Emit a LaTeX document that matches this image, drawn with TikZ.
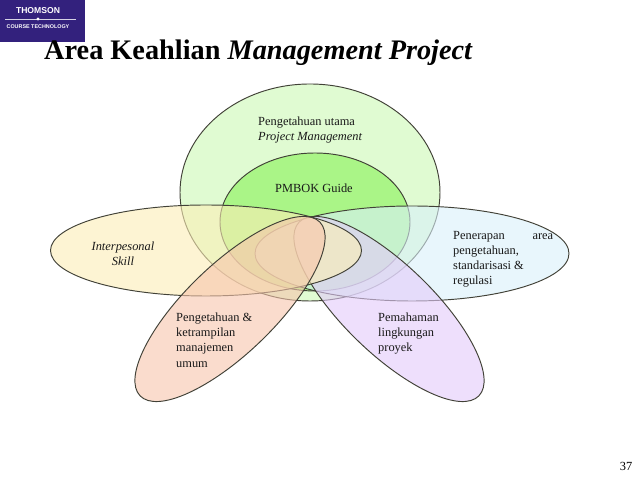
\documentclass[tikz,border=0pt]{standalone}
\usepackage{fontspec}
\setmainfont{Liberation Serif}
\setsansfont{Liberation Sans}
\definecolor{logoblue}{RGB}{51,33,125}
\definecolor{edge}{RGB}{65,65,55}
\definecolor{cbig}{RGB}{224,251,210}
\definecolor{cinner}{RGB}{170,245,135}
\definecolor{cright}{RGB}{217,240,250}
\definecolor{cleft}{RGB}{252,238,182}
\definecolor{clowl}{RGB}{247,197,172}
\definecolor{clowr}{RGB}{227,203,250}
\tikzset{
  venn/.style={draw=edge,line width=0.95pt},
  veil/.style={venn,fill opacity=0.6},
  lbl/.style={inner sep=0pt,align=left,anchor=north west,font=\fontsize{12.4pt}{15.1pt}\selectfont,text=black!90},
  lblc/.style={inner sep=0pt,align=center,font=\fontsize{12.4pt}{15.1pt}\selectfont,text=black!90}
}
\begin{document}
\begin{tikzpicture}[x=1pt,y=1pt]
\useasboundingbox (0,0) rectangle (638,478);
\fill[white] (0,0) rectangle (638,478);
% logo
\fill[logoblue] (0,436) rectangle (85,478);
\node[inner sep=0pt,text=white,font=\sffamily\bfseries\fontsize{8.6pt}{9pt}\selectfont] (logoa) at (38,467) {THOMSON};
\draw[white!80!logoblue,line width=0.6pt] (5,459) -- (76,459);
\fill[white] (38,459) circle (1.6);
\node[inner sep=0pt,text=white,font=\sffamily\bfseries\fontsize{5.4pt}{6pt}\selectfont] (logob) at (38,451.5) {COURSE TECHNOLOGY};
% title
\node[inner sep=0pt,anchor=base west,text=black,font=\fontsize{28.3pt}{32pt}\selectfont] (title) at (44,418) {\textbf{Area Keahlian \textit{Management Project}}};
% shapes
\path[venn,fill=cbig] (310,285.5) ellipse [x radius=130,y radius=108.5];
\path[venn,fill=cinner] (315,256) ellipse [x radius=95,y radius=69];
\path[veil,fill=cright] (412,224.5) ellipse [x radius=157,y radius=47.5];
\path[veil,fill=clowr,rotate around={-44:(389,169)}] (389,169) ellipse [x radius=125,y radius=44.5];
\path[veil,fill=cleft] (206,227.5) ellipse [x radius=155.5,y radius=45.5];
\path[veil,fill=clowl,rotate around={44:(230,169)}] (230,169) ellipse [x radius=125,y radius=44.5];
% labels
\node[lbl] (main) at (258,361.5) {Pengetahuan utama\\\textit{Project Management}};
\node[lblc] (pmbok) at (314,289.5) {PMBOK Guide};
\node[lblc] (inter) at (123,224) {\textit{Interpesonal}\\\textit{Skill}};
\node[lbl] (apply) at (453,247) {\makebox[100pt][s]{Penerapan\hfill area}\\pengetahuan,\\standarisasi \&\\regulasi};
\node[lbl] (know) at (176,165) {Pengetahuan \&\\ketrampilan\\manajemen\\umum};
\node[lbl] (env) at (378,165.5) {Pemahaman\\lingkungan\\proyek};
\node[inner sep=0pt,text=black,font=\fontsize{12.4pt}{14pt}\selectfont] (page) at (626,12) {37};
\end{tikzpicture}
\end{document}
